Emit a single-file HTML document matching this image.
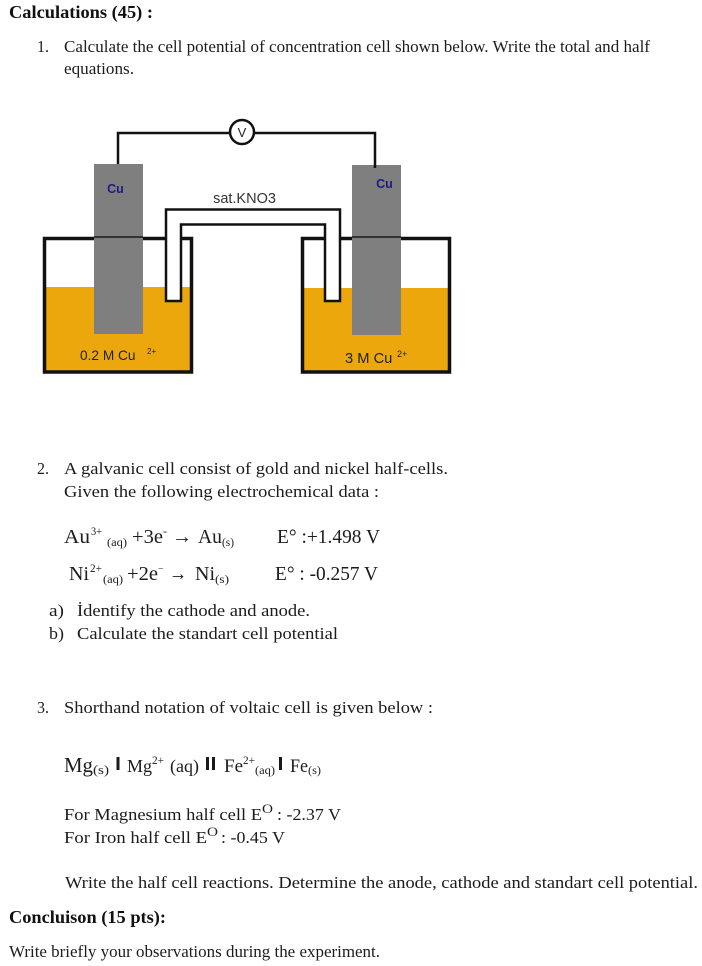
<!DOCTYPE html>
<html>
<head>
<meta charset="utf-8">
<style>
html,body{margin:0;padding:0;background:#fff;width:702px;height:966px;overflow:hidden}
svg{display:block}
.t{font-family:"Liberation Serif",serif;font-size:17px;fill:#1c1c1c}
.b{font-weight:bold;font-size:18.400px;fill:#111}
.s{font-family:"Liberation Sans",sans-serif}
</style>
</head>
<body>
<svg width="702" height="966" viewBox="0 0 702 966" xmlns="http://www.w3.org/2000/svg">
<text class="t b" x="9" y="18" textLength="144" lengthAdjust="spacingAndGlyphs">Calculations (45) :</text>
<text class="t" x="37" y="52" textLength="12" lengthAdjust="spacingAndGlyphs">1.</text>
<text class="t" x="64" y="52" textLength="586" lengthAdjust="spacingAndGlyphs">Calculate the cell potential of concentration cell shown below. Write the total and half</text>
<text class="t" x="64" y="74" textLength="70" lengthAdjust="spacingAndGlyphs">equations.</text>

<!-- liquid -->
<rect x="45" y="287" width="146" height="84" fill="#eba70c"/>
<rect x="303" y="288" width="146" height="84" fill="#eba70c"/>
<!-- beakers -->
<path d="M44.500 372V238.500H191.500V372H44.500Z" fill="none" stroke="#111" stroke-width="3.500"/>
<path d="M302.500 372V238.500H449.500V372H302.500Z" fill="none" stroke="#111" stroke-width="3.500"/>
<!-- electrodes -->
<rect x="94" y="164" width="49" height="170" fill="#7f7f7f"/>
<rect x="352" y="165" width="49" height="170" fill="#7f7f7f"/>
<path d="M94 237H143M352 237H401" stroke="#333" stroke-width="2"/>
<!-- wire -->
<path d="M118 164V133H375V168" fill="none" stroke="#111" stroke-width="2.500"/>
<circle cx="242" cy="132" r="12" fill="#fff" stroke="#111" stroke-width="2.500"/>
<text class="s" x="242" y="137" font-size="13" text-anchor="middle" fill="#222">V</text>
<!-- salt bridge -->
<path d="M166 301V209.500H340V301H325V224.500H181V301Z" fill="#fff" stroke="#111" stroke-width="2.500"/>
<!-- diagram labels -->
<text class="s" x="115.500" y="193" font-size="12.500" font-weight="bold" text-anchor="middle" fill="#1f1a80">Cu</text>
<text class="s" x="384.500" y="188" font-size="12.500" font-weight="bold" text-anchor="middle" fill="#1f1a80">Cu</text>
<text class="s" x="244.500" y="203" font-size="14.500" text-anchor="middle" fill="#333">sat.KNO3</text>
<text class="s" x="80" y="360" font-size="13.700" fill="#222">0.2 M Cu</text>
<text class="s" x="147" y="354" font-size="8" fill="#222">2+</text>
<text class="s" x="345" y="363" font-size="14.700" fill="#222">3 M Cu</text>
<text class="s" x="397" y="357" font-size="9" fill="#222">2+</text>

<!-- Q2 -->
<text class="t" x="37" y="474" textLength="12" lengthAdjust="spacingAndGlyphs">2.</text>
<text class="t" x="64" y="474" textLength="384" lengthAdjust="spacingAndGlyphs">A galvanic cell consist of gold and nickel half-cells.</text>
<text class="t" x="64" y="497" textLength="315" lengthAdjust="spacingAndGlyphs">Given the following electrochemical data :</text>

<text class="t" x="64" y="543" style="font-size:20px" textLength="26" lengthAdjust="spacingAndGlyphs">Au</text>
<text class="t" x="91" y="535" style="font-size:12px" textLength="11" lengthAdjust="spacingAndGlyphs">3+</text>
<text class="t" x="107" y="546" style="font-size:12px" textLength="20" lengthAdjust="spacingAndGlyphs">(aq)</text>
<text class="t" x="132" y="543" style="font-size:20px" textLength="31" lengthAdjust="spacingAndGlyphs">+3e</text>
<text class="t" x="163" y="535" style="font-size:12px">-</text>
<text class="t" x="172" y="543" style="font-size:20px" textLength="20" lengthAdjust="spacingAndGlyphs">→</text>
<text class="t" x="198" y="543" style="font-size:20px" textLength="24" lengthAdjust="spacingAndGlyphs">Au</text>
<text class="t" x="222" y="546" style="font-size:12px" textLength="12" lengthAdjust="spacingAndGlyphs">(s)</text>
<text class="t" x="277" y="543" style="font-size:20px" textLength="103" lengthAdjust="spacingAndGlyphs">E° :+1.498 V</text>

<text class="t" x="69" y="580" style="font-size:20px" textLength="20" lengthAdjust="spacingAndGlyphs">Ni</text>
<text class="t" x="90" y="572" style="font-size:12px" textLength="12" lengthAdjust="spacingAndGlyphs">2+</text>
<text class="t" x="103" y="583" style="font-size:12px" textLength="20" lengthAdjust="spacingAndGlyphs">(aq)</text>
<text class="t" x="127" y="580" style="font-size:20px" textLength="31" lengthAdjust="spacingAndGlyphs">+2e</text>
<text class="t" x="158" y="572" style="font-size:10px">−</text>
<text class="t" x="169" y="580" style="font-size:20px" textLength="18" lengthAdjust="spacingAndGlyphs">→</text>
<text class="t" x="195" y="580" style="font-size:20px" textLength="20" lengthAdjust="spacingAndGlyphs">Ni</text>
<text class="t" x="215" y="583" style="font-size:12px" textLength="14" lengthAdjust="spacingAndGlyphs">(s)</text>
<text class="t" x="275" y="580" style="font-size:20px" textLength="103" lengthAdjust="spacingAndGlyphs">E° : -0.257 V</text>

<text class="t" x="49" y="616" textLength="15" lengthAdjust="spacingAndGlyphs">a)</text>
<text class="t" x="77" y="616" textLength="233" lengthAdjust="spacingAndGlyphs">İdentify the cathode and anode.</text>
<text class="t" x="49" y="639" textLength="15" lengthAdjust="spacingAndGlyphs">b)</text>
<text class="t" x="77" y="639" textLength="261" lengthAdjust="spacingAndGlyphs">Calculate the standart cell potential</text>

<!-- Q3 -->
<text class="t" x="37" y="713" textLength="12" lengthAdjust="spacingAndGlyphs">3.</text>
<text class="t" x="64" y="713" textLength="369" lengthAdjust="spacingAndGlyphs">Shorthand notation of voltaic cell is given below :</text>

<text class="t" x="64" y="772" style="font-size:21px" textLength="29" lengthAdjust="spacingAndGlyphs">Mg</text>
<text class="t" x="93" y="774" style="font-size:13px" textLength="16" lengthAdjust="spacingAndGlyphs">(s)</text>
<rect x="116.500" y="757" width="3" height="13" fill="#1a1a1a"/>
<text class="t" x="127" y="772" style="font-size:18px" textLength="25" lengthAdjust="spacingAndGlyphs">Mg</text>
<text class="t" x="152" y="764" style="font-size:12px" textLength="12" lengthAdjust="spacingAndGlyphs">2+</text>
<text class="t" x="170" y="772" style="font-size:18px" textLength="29" lengthAdjust="spacingAndGlyphs">(aq)</text>
<rect x="206" y="757" width="3" height="13" fill="#1a1a1a"/>
<rect x="212" y="757" width="3" height="13" fill="#1a1a1a"/>
<text class="t" x="224" y="772" style="font-size:19px" textLength="19" lengthAdjust="spacingAndGlyphs">Fe</text>
<text class="t" x="243" y="764" style="font-size:12px" textLength="12" lengthAdjust="spacingAndGlyphs">2+</text>
<text class="t" x="255" y="774" style="font-size:12px" textLength="20" lengthAdjust="spacingAndGlyphs">(aq)</text>
<rect x="279" y="757" width="3" height="13" fill="#1a1a1a"/>
<text class="t" x="290" y="772" style="font-size:19px" textLength="18" lengthAdjust="spacingAndGlyphs">Fe</text>
<text class="t" x="308" y="774" style="font-size:12px" textLength="13" lengthAdjust="spacingAndGlyphs">(s)</text>

<text class="t" x="64" y="820" textLength="198" lengthAdjust="spacingAndGlyphs">For Magnesium half cell E</text>
<text class="t" x="262" y="813" style="font-size:13px" textLength="11" lengthAdjust="spacingAndGlyphs">O</text>
<text class="t" x="277" y="820" textLength="64" lengthAdjust="spacingAndGlyphs">: -2.37 V</text>
<text class="t" x="64" y="843" textLength="143" lengthAdjust="spacingAndGlyphs">For Iron half cell E</text>
<text class="t" x="207" y="836" style="font-size:13px" textLength="11" lengthAdjust="spacingAndGlyphs">O</text>
<text class="t" x="221" y="843" textLength="64" lengthAdjust="spacingAndGlyphs">: -0.45 V</text>

<text class="t" x="65" y="888" textLength="633" lengthAdjust="spacingAndGlyphs">Write the half cell reactions. Determine the anode, cathode and standart cell potential.</text>
<text class="t b" x="9" y="923" textLength="157" lengthAdjust="spacingAndGlyphs">Concluison (15 pts):</text>
<text class="t" x="9" y="957" textLength="371" lengthAdjust="spacingAndGlyphs">Write briefly your observations during the experiment.</text>
</svg>
</body>
</html>
